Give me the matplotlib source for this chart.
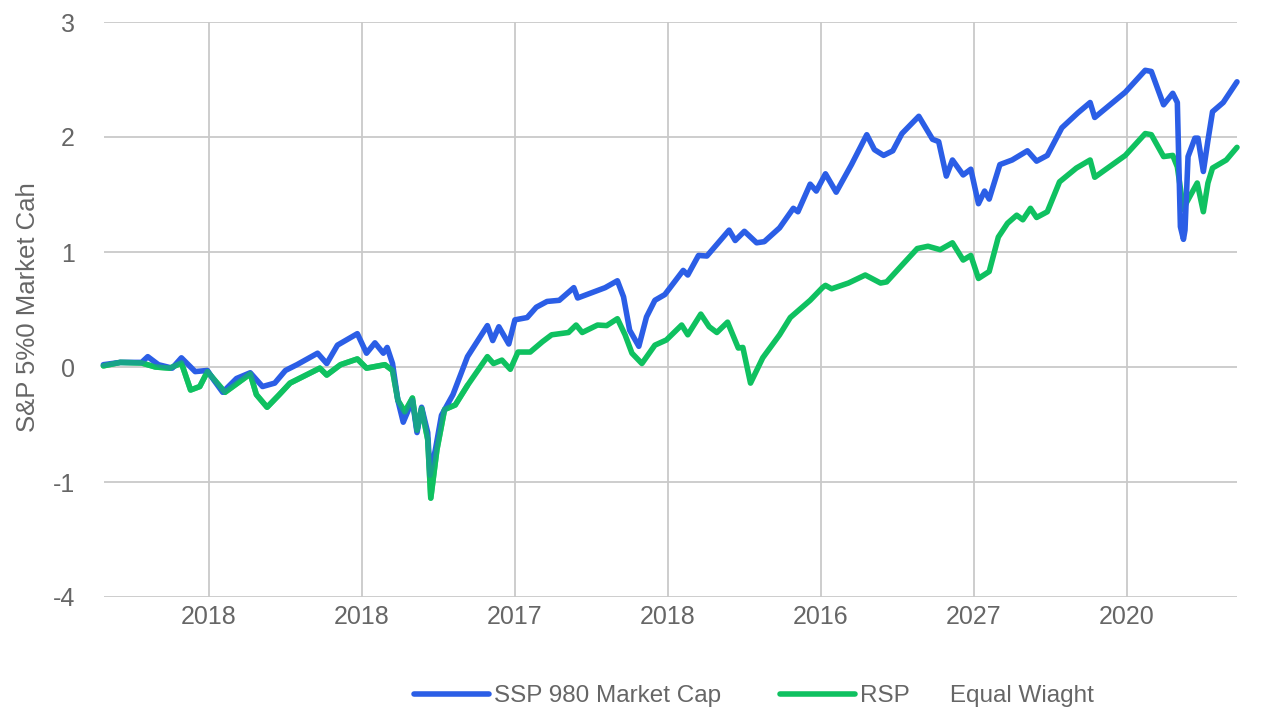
import matplotlib
matplotlib.use("Agg")
import matplotlib.pyplot as plt
from matplotlib.lines import Line2D

plt.rcParams['font.family'] = ['Liberation Sans', 'DejaVu Sans']

x_ticks = [0, 1, 2, 3, 4, 5, 6]
x_labels = ['2018', '2018', '2017', '2018', '2016', '2027', '2020']
y_ticks = [-2, -1, 0, 1, 2, 3]
y_labels = ['-4', '-1', '0', '1', '2', '3']
y_title = 'S&P 5%0 Market Cah'
blue_name = 'SSP 980 Market Cap'
green_name = 'RSP      Equal Wiaght'

blue_t = [-0.69,-0.58,-0.44,-0.40,-0.33,-0.24,-0.18,-0.09,-0.01,0.03,0.09,0.18,0.27,0.35,0.43,0.50,0.575,0.71,0.77,0.84,
          0.97,1.03,1.085,1.14,1.165,1.20,1.235,1.27,1.33,1.36,1.39,1.43,1.445,1.48,1.52,1.595,1.69,
          1.82,1.855,1.895,1.96,2.00,2.08,2.14,2.21,2.29,2.385,2.41,2.51,2.59,2.67,2.71,2.75,2.81,2.86,2.915,2.98,
          3.10,3.13,3.20,3.255,3.40,3.44,3.50,3.58,3.63,3.73,3.82,3.85,3.93,3.97,4.03,4.10,4.20,4.30,4.35,4.41,4.47,
          4.53,4.64,4.73,4.77,4.82,4.86,4.93,4.98,5.03,5.07,5.10,5.17,5.25,5.35,5.41,5.48,5.575,5.68,5.76,5.79,
          5.99,6.12,6.16,6.24,6.30,6.33,6.35,6.37,6.38,6.40,6.445,6.465,6.50,6.53,6.56,6.63,6.72]
blue_v = [0.02,0.04,0.04,0.09,0.02,-0.01,0.08,-0.04,-0.03,-0.11,-0.22,-0.10,-0.05,-0.17,-0.14,-0.03,0.02,0.12,0.03,0.19,
          0.29,0.12,0.21,0.12,0.17,0.03,-0.29,-0.48,-0.29,-0.57,-0.35,-0.57,-0.94,-0.72,-0.42,-0.24,0.09,
          0.36,0.23,0.35,0.20,0.41,0.43,0.52,0.57,0.58,0.69,0.60,0.65,0.69,0.75,0.61,0.32,0.18,0.435,0.58,0.63,
          0.84,0.80,0.97,0.965,1.19,1.10,1.18,1.08,1.09,1.21,1.38,1.35,1.59,1.53,1.68,1.52,1.76,2.02,1.89,1.84,1.88,
          2.03,2.18,1.98,1.96,1.66,1.80,1.67,1.72,1.42,1.53,1.46,1.76,1.80,1.88,1.79,1.84,2.08,2.21,2.30,2.17,
          2.39,2.58,2.57,2.28,2.38,2.30,1.22,1.11,1.19,1.83,1.99,1.99,1.70,1.97,2.22,2.30,2.48]

green_t = [-0.69,-0.58,-0.44,-0.35,-0.255,-0.18,-0.12,-0.06,-0.01,0.105,0.27,0.31,0.38,0.46,0.53,0.725,0.77,0.86,0.97,1.03,
           1.15,1.20,1.235,1.28,1.33,1.36,1.39,1.43,1.45,1.49,1.54,1.61,1.69,
           1.82,1.86,1.915,1.97,2.02,2.10,2.18,2.24,2.35,2.40,2.44,2.54,2.60,2.67,2.72,2.765,2.83,2.915,2.99,
           3.09,3.13,3.215,3.27,3.32,3.39,3.46,3.49,3.54,3.62,3.73,3.80,3.93,4.01,4.03,4.07,4.18,4.29,4.39,4.43,
           4.54,4.63,4.70,4.78,4.86,4.93,4.98,5.03,5.10,5.16,5.22,5.28,5.32,5.37,5.41,5.48,5.56,5.67,5.76,5.79,
           5.99,6.12,6.16,6.24,6.30,6.33,6.37,6.39,6.46,6.50,6.53,6.56,6.65,6.72]
green_v = [0.01,0.04,0.035,0.0,-0.01,0.035,-0.20,-0.17,-0.04,-0.22,-0.06,-0.24,-0.35,-0.24,-0.14,-0.01,-0.07,0.02,0.07,-0.01,
           0.02,-0.03,-0.29,-0.39,-0.27,-0.55,-0.36,-0.63,-1.14,-0.72,-0.37,-0.33,-0.16,
           0.09,0.03,0.06,-0.02,0.13,0.13,0.22,0.28,0.30,0.365,0.30,0.365,0.36,0.42,0.28,0.12,0.03,0.19,0.235,
           0.365,0.28,0.46,0.35,0.30,0.39,0.165,0.17,-0.14,0.08,0.28,0.43,0.58,0.69,0.71,0.68,0.73,0.80,0.73,0.74,
           0.90,1.03,1.05,1.02,1.08,0.93,0.97,0.77,0.83,1.13,1.25,1.32,1.28,1.38,1.30,1.35,1.61,1.73,1.80,1.65,
           1.84,2.03,2.02,1.83,1.84,1.74,1.37,1.43,1.60,1.35,1.60,1.73,1.80,1.91]

# the two lines blend where they overlap up to this point in the series
overlap_points = 33

BLUE = '#2b5ee6'
GREEN = '#0fc160'
GRID = '#c9c9c9'
TEXT = '#666666'

fig = plt.figure(figsize=(12.8, 7.2), dpi=100)
ax = fig.add_axes([104/1280, 1-597/720, (1237-104)/1280, (597-22)/720])
ax.set_xlim(-0.686, 6.72)
ax.set_ylim(-2, 3)
ax.set_xticks(x_ticks, x_labels)
ax.set_yticks(y_ticks, y_labels)
ax.tick_params(length=0, labelsize=18, labelcolor=TEXT)
ax.tick_params(axis='x', pad=6)
ax.tick_params(axis='y', pad=21)
ax.grid(True, color=GRID, linewidth=1.3)
ax.set_axisbelow(True)
for s in ax.spines.values():
    s.set_visible(False)

style = dict(lw=4.0, solid_joinstyle='round', solid_capstyle='round', clip_on=False)
ax.plot(green_t, green_v, color=GREEN, **style)
ax.plot(blue_t, blue_v, color=BLUE, **style)
ax.plot(green_t[:overlap_points], green_v[:overlap_points], color=GREEN, alpha=0.7, **style)

fig.text(28/1280, 1-307/720, y_title, rotation=90, ha='center', va='center', fontsize=18.5, color=TEXT)

handles = [Line2D([], [], color=BLUE, lw=4, solid_capstyle='round'),
           Line2D([], [], color=GREEN, lw=4, solid_capstyle='round')]
fig.legend(handles, [blue_name, green_name], loc='center', bbox_to_anchor=(754/1280, 1-696/720), ncol=2,
           frameon=False, fontsize=17.5, labelcolor=TEXT, handlelength=3.1, handletextpad=0.2, columnspacing=2.4)
fig.savefig('out.png', dpi=100)
